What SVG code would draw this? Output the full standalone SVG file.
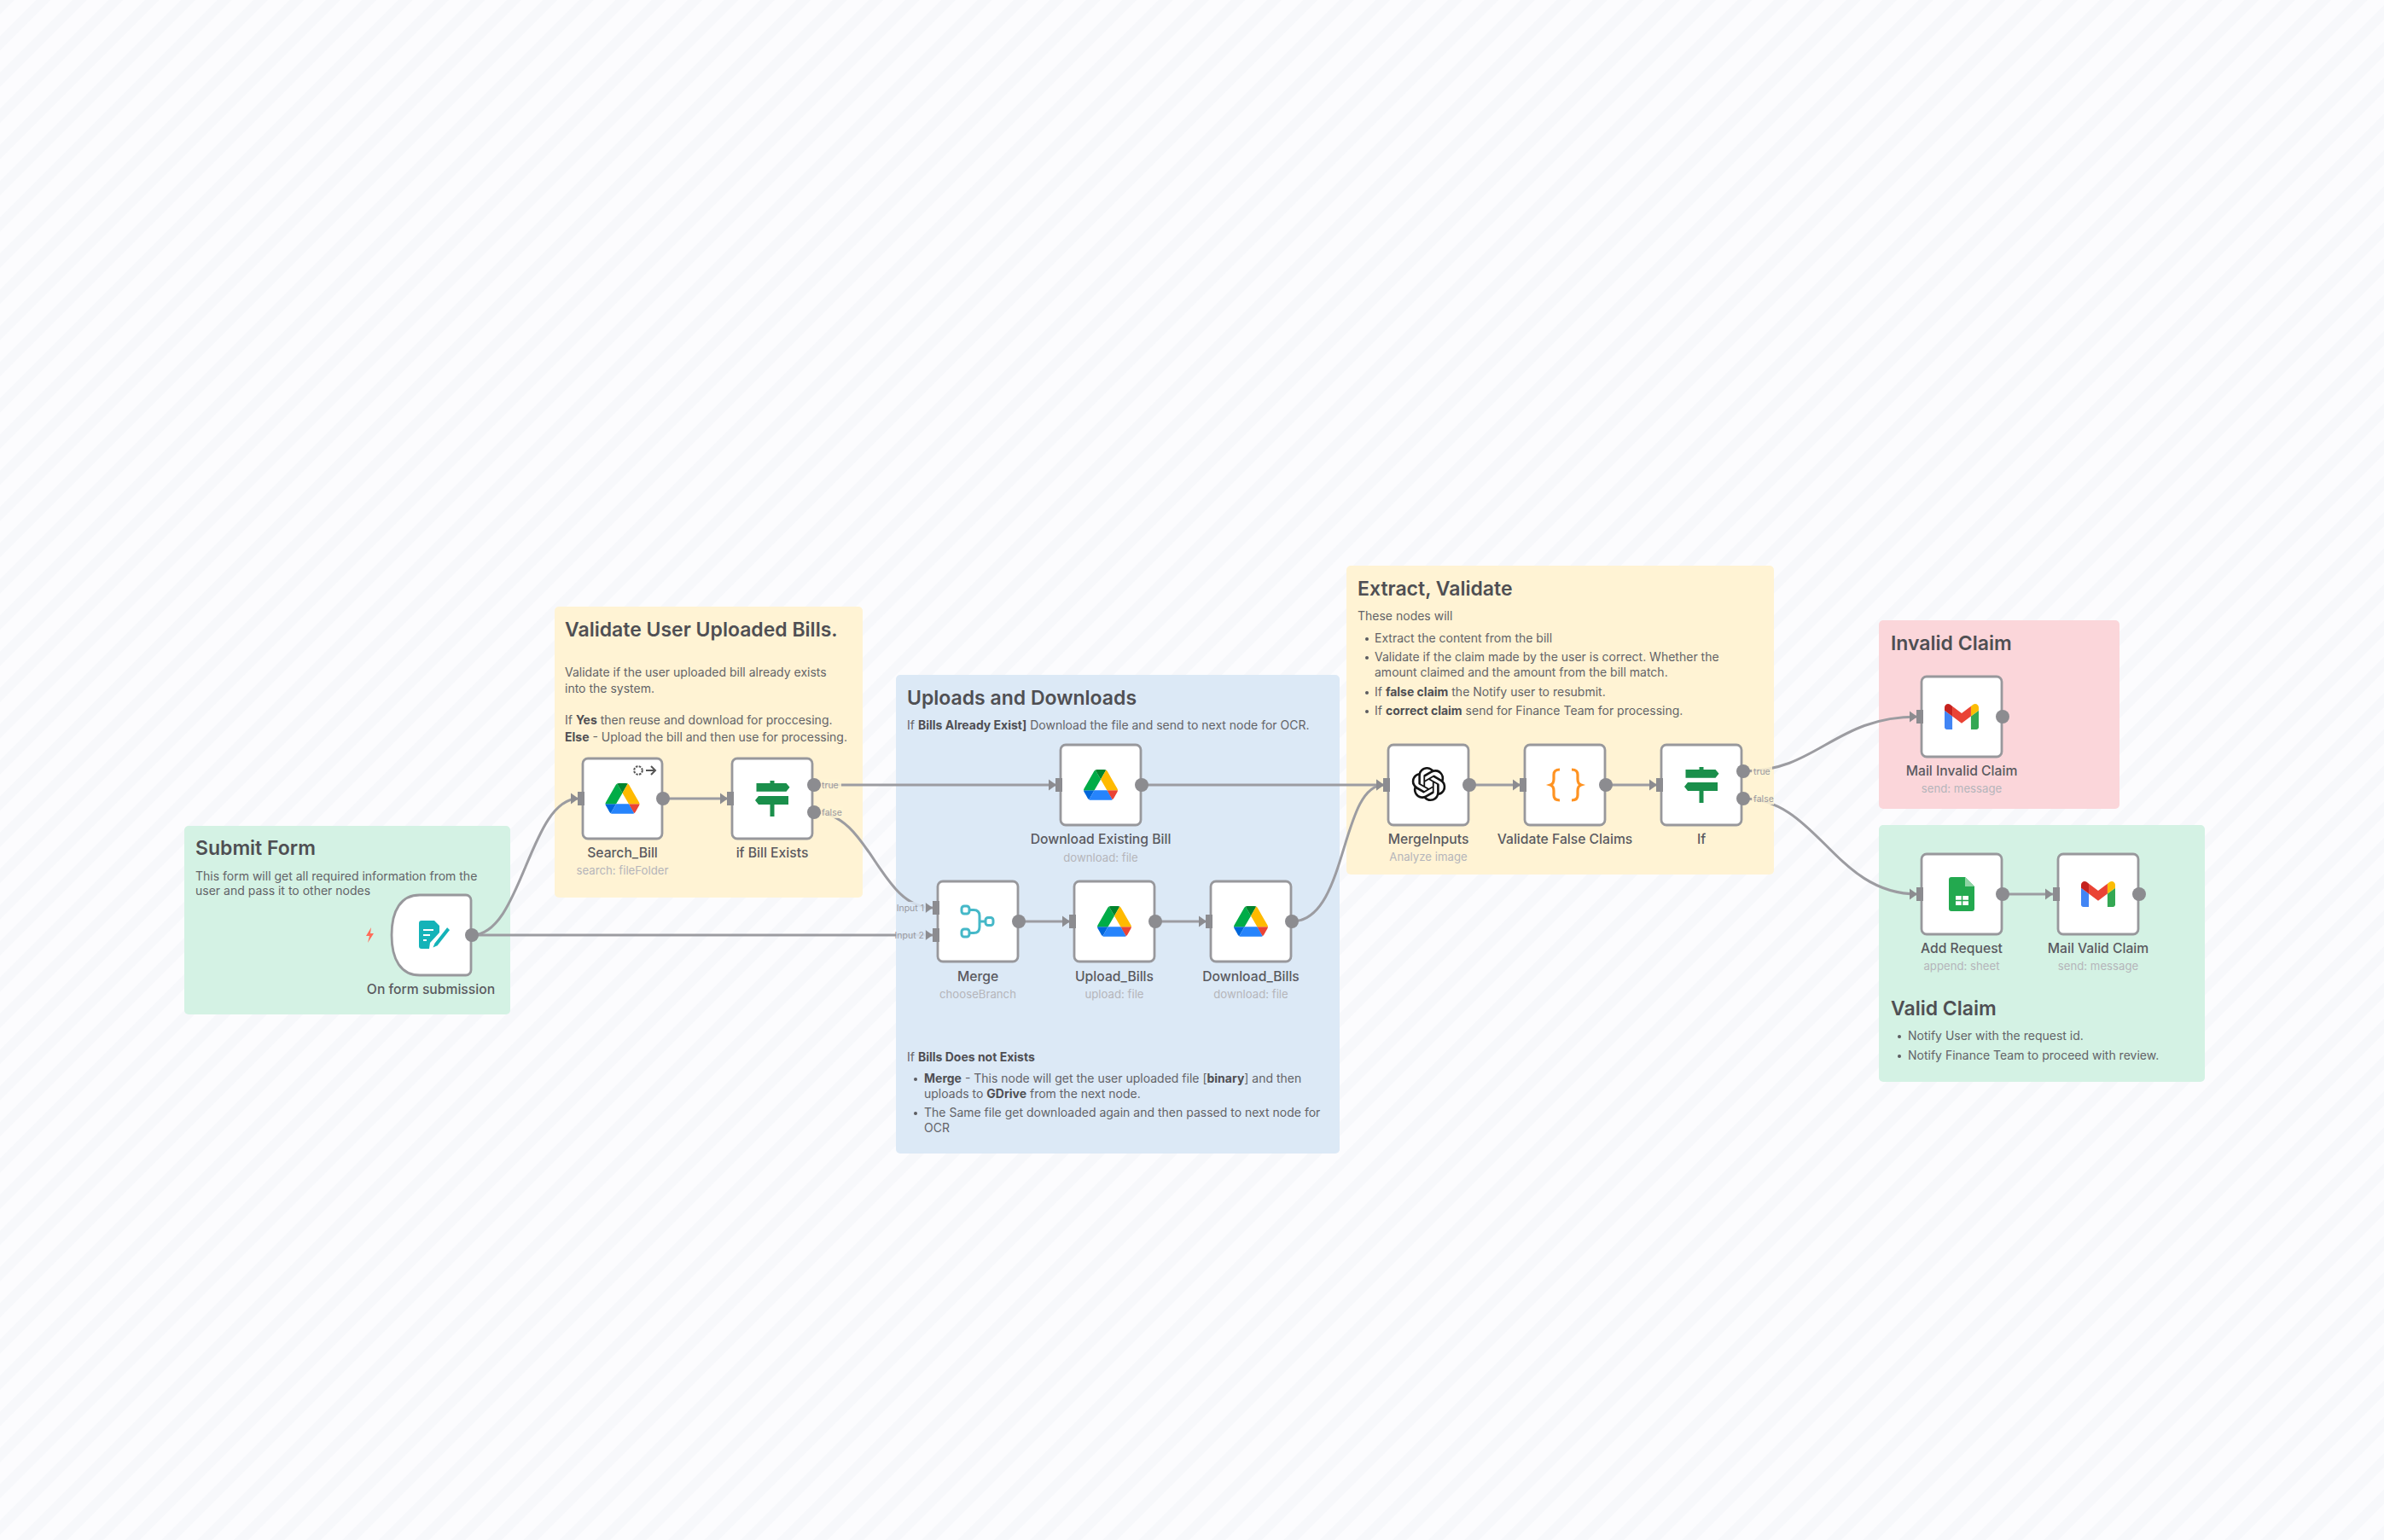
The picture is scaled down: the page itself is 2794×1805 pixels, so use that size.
<svg xmlns="http://www.w3.org/2000/svg" width="2794" height="1805" viewBox="0 0 2794 1805">
<style>
text{font-family:"Inter","Liberation Sans",sans-serif}
.sticky{stroke:none}
.green{fill:#d4f2e4}.yellow{fill:#fff3d4}.blue{fill:#dce9f6}.pink{fill:#fbd6da}
.title{font-size:23px;font-weight:600;fill:#4f4f53}
.body{font-size:14px;fill:#636367}
.body tspan{font-weight:700;fill:#4f4f53}
.card{fill:#fff;stroke:#98989c;stroke-width:2.800}
.dot{fill:#8c8c90}
.inport{fill:#8c8c90}
.label{font-size:15.700px;font-weight:500;fill:#5a5a5f;text-anchor:middle}
.sub{font-size:13.200px;fill:#b5b5ba;text-anchor:middle}
.port{font-size:10.500px;fill:#98989e}
.back{opacity:.85}
.end{text-anchor:end}
.wire{fill:none;stroke:#9c9ca1;stroke-width:3;marker-end:url(#arrow)}
</style>
<defs>
<pattern id="stripes" width="30" height="30" patternUnits="userSpaceOnUse" patternTransform="rotate(45)">
<rect width="30" height="30" fill="#fcfcfe"/>
<rect width="12" height="30" fill="#f7f8fb"/>
</pattern>
<marker id="arrow" markerUnits="userSpaceOnUse" markerWidth="10" markerHeight="14" refX="9" refY="7" orient="auto"><path d="M0 .5L9 7L0 13.500z" fill="#8c8c90"/></marker>
<symbol id="drive" viewBox="0 0 87.300 78" overflow="visible">
<path d="m6.600 66.850 3.850 6.650c.8 1.400 1.950 2.500 3.300 3.300l13.750-23.800h-27.500c0 1.550.4 3.100 1.200 4.500z" fill="#0066da"/>
<path d="m43.650 25-13.750-23.800c-1.350.8-2.500 1.900-3.300 3.300l-25.400 44a9.060 9.060 0 0 0 -1.200 4.500h27.500z" fill="#00ac47"/>
<path d="m73.550 76.800c1.350-.8 2.500-1.900 3.300-3.300l1.600-2.750 7.650-13.250c.8-1.400 1.200-2.950 1.200-4.500h-27.502l5.852 11.500z" fill="#ea4335"/>
<path d="m43.650 25 13.750-23.800c-1.350-.8-2.900-1.200-4.500-1.200h-18.500c-1.600 0-3.150.45-4.500 1.200z" fill="#00832d"/>
<path d="m59.800 53h-32.300l-13.750 23.800c1.350.8 2.900 1.200 4.500 1.200h50.800c1.600 0 3.150-.45 4.500-1.200z" fill="#2684fc"/>
<path d="m73.400 26.500-12.700-22c-.8-1.400-1.950-2.500-3.300-3.300l-13.750 23.800 16.150 28h27.450c0-1.550-.4-3.100-1.200-4.500z" fill="#ffba00"/>
</symbol>
<symbol id="gmail" viewBox="52 42 88 66" overflow="visible">
<path fill="#4285f4" d="M58 108h14V74L52 59v43c0 3.320 2.690 6 6 6"/>
<path fill="#34a853" d="M120 108h14c3.320 0 6-2.690 6-6V59l-20 15"/>
<path fill="#fbbc04" d="M120 48v26l20-15v-8c0-7.420-8.470-11.650-14.400-7.200"/>
<path fill="#ea4335" d="M72 74V48l24 18 24-18v26L96 92"/>
<path fill="#c5221f" d="M52 51v8l20 15V48l-5.600-4.200c-5.940-4.450-14.400-.22-14.400 7.200"/>
</symbol>
<symbol id="sign" viewBox="-20 -21 40 42" overflow="visible">
<path d="M-2.500-21h5v3h14l4 4.800l-4 4.900h-35v-9.700h16zM-16-3h35v10h-35l-4-5zM-2.500 7h5v14h-5z" fill="#1a8f4b"/>
</symbol>
<symbol id="openai" viewBox="0 0 24 24"><path fill="#141414" d="M22.2819 9.8211a5.9847 5.9847 0 0 0-.5157-4.9108 6.0462 6.0462 0 0 0-6.5098-2.9A6.0651 6.0651 0 0 0 4.9807 4.1818a5.9847 5.9847 0 0 0-3.9977 2.9 6.0462 6.0462 0 0 0 .7427 7.0966 5.98 5.98 0 0 0 .511 4.9107 6.051 6.051 0 0 0 6.5146 2.9001A5.9847 5.9847 0 0 0 13.2599 24a6.0557 6.0557 0 0 0 5.7718-4.2058 5.9894 5.9894 0 0 0 3.9977-2.9001 6.0557 6.0557 0 0 0-.7475-7.0729zm-9.022 12.6081a4.4755 4.4755 0 0 1-2.8764-1.0408l.1419-.0804 4.7783-2.7582a.7948.7948 0 0 0 .3927-.6813v-6.7369l2.02 1.1686a.071.071 0 0 1 .038.052v5.5826a4.504 4.504 0 0 1-4.4945 4.4944zm-9.6607-4.1254a4.4708 4.4708 0 0 1-.5346-3.0137l.142.0852 4.783 2.7582a.7712.7712 0 0 0 .7806 0l5.8428-3.3685v2.3324a.0804.0804 0 0 1-.0332.0615L9.74 19.9502a4.4992 4.4992 0 0 1-6.1408-1.6464zM2.3408 7.8956a4.485 4.485 0 0 1 2.3655-1.9728V11.6a.7664.7664 0 0 0 .3879.6765l5.8144 3.3543-2.0201 1.1685a.0757.0757 0 0 1-.071 0l-4.8303-2.7865A4.504 4.504 0 0 1 2.3408 7.872zm16.5963 3.8558L13.1038 8.364 15.1192 7.2a.0757.0757 0 0 1 .071 0l4.8303 2.7913a4.4944 4.4944 0 0 1-.6765 8.1042v-5.6772a.79.79 0 0 0-.407-.667zm2.0107-3.0231l-.142-.0852-4.7735-2.7818a.7759.7759 0 0 0-.7854 0L9.409 9.2297V6.8974a.0662.0662 0 0 1 .0284-.0615l4.8303-2.7866a4.4992 4.4992 0 0 1 6.6802 4.66zM8.3065 12.863l-2.02-1.1638a.0804.0804 0 0 1-.038-.0567V6.0742a4.4992 4.4992 0 0 1 7.3757-3.4537l-.142.0805L8.704 5.459a.7948.7948 0 0 0-.3927.6813zm1.0976-2.3654l2.602-1.4998 2.6069 1.4998v2.9994l-2.5974 1.4997-2.6067-1.4997Z"/></symbol>
</defs>
<rect id="background" width="2794" height="1805" fill="url(#stripes)"/>

<g id="stickies">
<g id="sticky-submit"><rect class="sticky green" x="216" y="968" width="382" height="221" rx="5"/>
<text class="title" x="229" y="1002">Submit Form</text>
<text class="body" x="229" y="1032">This form will get all required information from the</text>
<text class="body" x="229" y="1049">user and pass it to other nodes</text></g>
<g id="sticky-validate"><rect class="sticky yellow" x="650" y="711" width="361" height="341" rx="5"/>
<text class="title" x="662" y="746">Validate User Uploaded Bills.</text>
<text class="body" x="662" y="793">Validate if the user uploaded bill already exists</text>
<text class="body" x="662" y="812">into the system.</text>
<text class="body" x="662" y="849">If <tspan>Yes</tspan> then reuse and download for proccesing.</text>
<text class="body" x="662" y="869"><tspan>Else</tspan> - Upload the bill and then use for processing.</text></g>
<g id="sticky-uploads"><rect class="sticky blue" x="1050" y="791" width="520" height="561" rx="5"/>
<text class="title" x="1063" y="826">Uploads and Downloads</text>
<text class="body" x="1063" y="855">If <tspan>Bills Already Exist]</tspan> Download the file and send to next node for OCR.</text>
<text class="body" x="1063" y="1243.500">If <tspan>Bills Does not Exists</tspan></text>
<circle cx="1073" cy="1265" r="2" fill="#5c5c60"/><circle cx="1073" cy="1305" r="2" fill="#5c5c60"/>
<text class="body" x="1083" y="1269"><tspan>Merge</tspan> - This node will get the user uploaded file [<tspan>binary</tspan>] and then</text>
<text class="body" x="1083" y="1287">uploads to <tspan>GDrive</tspan> from the next node.</text>
<text class="body" x="1083" y="1309">The Same file get downloaded again and then passed to next node for</text>
<text class="body" x="1083" y="1327">OCR</text></g>
<g id="sticky-extract"><rect class="sticky yellow" x="1578" y="663" width="501" height="362" rx="5"/>
<text class="title" x="1591" y="698">Extract, Validate</text>
<text class="body" x="1591" y="727">These nodes will</text>
<circle cx="1602" cy="749" r="2" fill="#5c5c60"/><circle cx="1602" cy="771" r="2" fill="#5c5c60"/><circle cx="1602" cy="812" r="2" fill="#5c5c60"/><circle cx="1602" cy="834" r="2" fill="#5c5c60"/>
<text class="body" x="1611" y="753">Extract the content from the bill</text>
<text class="body" x="1611" y="775">Validate if the claim made by the user is correct. Whether the</text>
<text class="body" x="1611" y="793">amount claimed and the amount from the bill match.</text>
<text class="body" x="1611" y="816">If <tspan>false claim</tspan> the Notify user to resubmit.</text>
<text class="body" x="1611" y="838">If <tspan>correct claim</tspan> send for Finance Team for processing.</text></g>
<g id="sticky-invalid"><rect class="sticky pink" x="2202" y="727" width="282" height="221" rx="5"/>
<text class="title" x="2216" y="762">Invalid Claim</text></g>
<g id="sticky-valid"><rect class="sticky green" x="2202" y="967" width="382" height="301" rx="5"/>
<text class="title" x="2216" y="1190">Valid Claim</text>
<circle cx="2226" cy="1215" r="2" fill="#5c5c60"/><circle cx="2226" cy="1238" r="2" fill="#5c5c60"/>
<text class="body" x="2236" y="1219">Notify User with the request id.</text>
<text class="body" x="2236" y="1242">Notify Finance Team to proceed with review.</text></g>
</g>

<g id="connectors">
<path class="wire" d="M553 1096C612 1096 620 936 678 936"/>
<path class="wire" d="M553 1096H1093"/>
<path class="wire" d="M778 936H853"/>
<path class="wire" d="M954 920H1238"/>
<path class="wire" d="M954 952C1020 952 1030 1064 1093 1064"/>
<path class="wire" d="M1338 920H1622"/>
<path class="wire" d="M1194 1080H1254"/>
<path class="wire" d="M1354 1080H1414"/>
<path class="wire" d="M1514 1080C1580 1080 1570 920 1622 920"/>
<path class="wire" d="M1722 920H1782"/>
<path class="wire" d="M1882 920H1942"/>
<path class="wire" d="M2043 904C2130 904 2150 840 2247 840"/>
<path class="wire" d="M2043 936C2130 936 2150 1048 2247 1048"/>
<path class="wire" d="M2347 1048H2406"/>
</g>

<g id="node-form"><path class="card" d="M492 1049H546a6 6 0 0 1 6 6V1137a6 6 0 0 1-6 6H492C470 1143 459 1125 459 1096S470 1049 492 1049z"/>
<path d="M494 1079h15l6 6v8l-11 12-1 7h-9a3 3 0 0 1-3-3V1082a3 3 0 0 1 3-3z" fill="#14b3b8"/>
<path d="M496 1090h12M496 1096h8M496 1102h4" stroke="#fff" stroke-width="2.200" fill="none"/>
<path d="M524 1086l-15 19-3 7 7-3 15-19z" fill="#14b3b8" stroke="#fff" stroke-width="1.500"/>
<circle class="dot" cx="553" cy="1096" r="8"/>
<path d="M435 1087l-6 10h4l-2 8 7-11h-4z" fill="#ff6d5a"/>
<text class="label" x="505" y="1165">On form submission</text></g>

<g id="node-search-bill"><rect class="card" x="683" y="889" width="93" height="94" rx="6"/>
<use href="#drive" x="709.500" y="918" width="40" height="35.700"/>
<circle cx="748" cy="903" r="4.800" fill="none" stroke="#555" stroke-width="2" stroke-dasharray="2.500 1.300"/>
<path d="M757 903H767M763 898l5 5-5 5" fill="none" stroke="#555" stroke-width="2"/>
<rect class="inport" x="677" y="928" width="8" height="16"/><circle class="dot" cx="777" cy="936" r="8"/>
<text class="label" x="729.500" y="1005">Search_Bill</text><text class="sub" x="729.500" y="1025">search: fileFolder</text></g>

<g id="node-if-bill-exists"><rect class="card" x="858" y="889" width="94" height="94" rx="6"/>
<use href="#sign" x="885" y="915" width="40" height="42"/>
<rect class="inport" x="852" y="928" width="8" height="16"/>
<rect class="yellow back" x="962" y="913" width="24" height="14"/><rect class="yellow back" x="962" y="945" width="26" height="14"/>
<circle class="dot" cx="954" cy="920" r="8"/><circle class="dot" cx="954" cy="952" r="8"/>
<text class="port" x="963" y="924">true</text><text class="port" x="963" y="956">false</text>
<text class="label" x="905" y="1005">if Bill Exists</text></g>

<g id="node-download-existing"><rect class="card" x="1243" y="873" width="94" height="94" rx="6"/>
<use href="#drive" x="1270" y="902" width="40" height="35.700"/>
<rect class="inport" x="1237" y="912" width="8" height="16"/><circle class="dot" cx="1338" cy="920" r="8"/>
<text class="label" x="1290" y="989">Download Existing Bill</text><text class="sub" x="1290" y="1009.500">download: file</text></g>

<g id="node-merge"><rect class="card" x="1099" y="1033" width="94" height="94" rx="6"/>
<g fill="none" stroke="#45b8c8" stroke-width="3"><rect x="1127" y="1062" width="9" height="9" rx="3"/><rect x="1127" y="1089" width="9" height="9" rx="3"/><rect x="1155" y="1075.500" width="9" height="9" rx="3"/>
<path d="M1136 1066.500h5q7 0 7 7v13q0 7-7 7h-5M1148 1080h7"/></g>
<rect class="inport" x="1093" y="1056" width="8" height="16"/><rect class="inport" x="1093" y="1088" width="8" height="16"/>
<rect class="blue back" x="1050" y="1057" width="35" height="14"/><rect class="blue back" x="1050" y="1089" width="35" height="14"/>
<circle class="dot" cx="1194" cy="1080" r="8"/>
<text class="port end" x="1083" y="1067.500">Input 1</text><text class="port end" x="1083" y="1099.500">Input 2</text>
<text class="label" x="1146" y="1149.500">Merge</text><text class="sub" x="1146" y="1170">chooseBranch</text></g>

<g id="node-upload-bills"><rect class="card" x="1259" y="1033" width="94" height="94" rx="6"/>
<use href="#drive" x="1286" y="1062" width="40" height="35.700"/>
<rect class="inport" x="1253" y="1072" width="8" height="16"/><circle class="dot" cx="1354" cy="1080" r="8"/>
<text class="label" x="1306" y="1149.500">Upload_Bills</text><text class="sub" x="1306" y="1170">upload: file</text></g>

<g id="node-download-bills"><rect class="card" x="1419" y="1033" width="94" height="94" rx="6"/>
<use href="#drive" x="1446" y="1062" width="40" height="35.700"/>
<rect class="inport" x="1413" y="1072" width="8" height="16"/><circle class="dot" cx="1514" cy="1080" r="8"/>
<text class="label" x="1466" y="1149.500">Download_Bills</text><text class="sub" x="1466" y="1170">download: file</text></g>

<g id="node-merge-inputs"><rect class="card" x="1627" y="873" width="94" height="94" rx="6"/>
<use href="#openai" x="1654.500" y="899" width="40" height="40"/>
<rect class="inport" x="1621" y="912" width="8" height="16"/><circle class="dot" cx="1722" cy="920" r="8"/>
<text class="label" x="1674" y="989">MergeInputs</text><text class="sub" x="1674" y="1009">Analyze image</text></g>

<g id="node-validate-false"><rect class="card" x="1787" y="873" width="94" height="94" rx="6"/>
<path d="M1828 902c-5 0-7 2-7 6v5c0 4-1 6-4 7 3 1 4 3 4 7v5c0 4 2 6 7 6M1842 902c5 0 7 2 7 6v5c0 4 1 6 4 7-3 1-4 3-4 7v5c0 4-2 6-7 6" fill="none" stroke="#ff9322" stroke-width="3.200"/>
<rect class="inport" x="1781" y="912" width="8" height="16"/><circle class="dot" cx="1882" cy="920" r="8"/>
<text class="label" x="1834" y="989">Validate False Claims</text></g>

<g id="node-if"><rect class="card" x="1947" y="873" width="94" height="94" rx="6"/>
<use href="#sign" x="1974" y="899" width="40" height="42"/>
<rect class="inport" x="1941" y="912" width="8" height="16"/>
<rect class="yellow back" x="2053" y="897" width="24" height="14"/><rect class="yellow back" x="2053" y="929" width="26" height="14"/>
<circle class="dot" cx="2043" cy="904" r="8"/><circle class="dot" cx="2043" cy="936" r="8"/>
<text class="port" x="2055" y="908">true</text><text class="port" x="2055" y="940">false</text>
<text class="label" x="1994" y="989">If</text></g>

<g id="node-mail-invalid"><rect class="card" x="2252" y="793" width="94" height="94" rx="6"/>
<use href="#gmail" x="2279" y="825" width="40" height="30"/>
<rect class="inport" x="2246" y="832" width="8" height="16"/><circle class="dot" cx="2347" cy="840" r="8"/>
<text class="label" x="2299" y="909">Mail Invalid Claim</text><text class="sub" x="2299" y="929">send: message</text></g>

<g id="node-add-request"><rect class="card" x="2252" y="1001" width="94" height="94" rx="6"/>
<path d="M2287 1028h16l11 11v26a3 3 0 0 1-3 3H2287a3 3 0 0 1-3-3V1031a3 3 0 0 1 3-3z" fill="#23a94f"/><path d="M2303 1028l11 11h-11z" fill="#8fd4a5"/>
<path d="M2292 1050h15v11h-15z" fill="#fff"/><path d="M2299.500 1050v11M2292 1055.500h15" stroke="#23a94f" stroke-width="1.500"/>
<rect class="inport" x="2246" y="1040" width="8" height="16"/><circle class="dot" cx="2347" cy="1048" r="8"/>
<text class="label" x="2299" y="1117">Add Request</text><text class="sub" x="2299" y="1137">append: sheet</text></g>

<g id="node-mail-valid"><rect class="card" x="2412" y="1001" width="94" height="94" rx="6"/>
<use href="#gmail" x="2439" y="1033" width="40" height="30"/>
<rect class="inport" x="2406" y="1040" width="8" height="16"/><circle class="dot" cx="2507" cy="1048" r="8"/>
<text class="label" x="2459" y="1117">Mail Valid Claim</text><text class="sub" x="2459" y="1137">send: message</text></g>
</svg>
